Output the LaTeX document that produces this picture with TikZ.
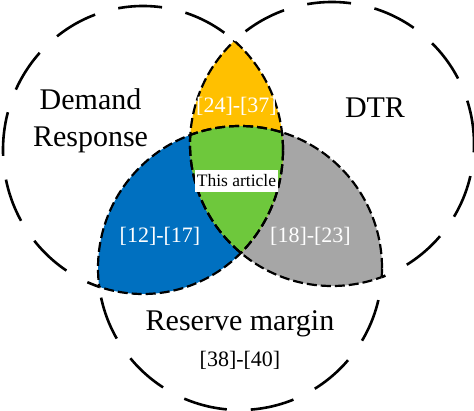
\documentclass[tikz,border=0pt]{standalone}
\usepackage{fontspec}
\setmainfont{Liberation Serif}
\definecolor{yelc}{RGB}{255,192,0}
\definecolor{bluec}{RGB}{0,112,192}
\definecolor{grayc}{RGB}{166,166,166}
\definecolor{greenc}{RGB}{110,200,60}
\newcommand{\shA}{(cA) ellipse [x radius=140pt, y radius=144pt]}
\newcommand{\shB}{(cB) circle [radius=142pt]}
\newcommand{\shC}{(cC) circle [radius=142pt]}
\newcommand{\bigrect}{(-20,-20) rectangle (500,440)}
\tikzset{
  outerline/.style={line width=2.6pt, dash pattern=on 44pt off 24pt},
  innerline/.style={line width=2.2pt, dash pattern=on 10pt off 4pt},
  bigtext/.style={font=\fontsize{30}{36}\selectfont, inner sep=0pt, anchor=base},
  reftext/.style={font=\fontsize{22}{26}\selectfont, inner sep=0pt, anchor=base},
}
\begin{document}
\begin{tikzpicture}[x=1pt,y=-1pt]
\useasboundingbox (0,0) rectangle (474,411);
\coordinate (cA) at (143,150);
\coordinate (cB) at (332,144);
\coordinate (cC) at (240,268);
% coloured regions
\begin{scope}\clip \shA; \fill[bluec] \shC; \end{scope}
\begin{scope}\clip \shB; \fill[grayc] \shC; \end{scope}
\begin{scope}\clip \shA; \fill[yelc] \shB; \end{scope}
\begin{scope}\clip \shA; \clip \shB; \fill[greenc] \shC; \end{scope}
% inner boundaries (short dashes)
\begin{scope}\clip \shB; \draw[innerline] \shA; \end{scope}
\begin{scope}\clip \shC; \draw[innerline] \shA; \end{scope}
\begin{scope}\clip \shA; \draw[innerline] \shB; \end{scope}
\begin{scope}\clip \shC; \draw[innerline] \shB; \end{scope}
\begin{scope}\clip \shA; \draw[innerline] \shC; \end{scope}
\begin{scope}\clip \shB; \draw[innerline] \shC; \end{scope}
% outer boundaries (long dashes)
\begin{scope}[even odd rule]
  \clip \bigrect \shB; \clip \bigrect \shC; \draw[outerline] \shA;
\end{scope}
\begin{scope}[even odd rule]
  \clip \bigrect \shA; \clip \bigrect \shC; \draw[outerline] \shB;
\end{scope}
\begin{scope}[even odd rule]
  \clip \bigrect \shA; \clip \bigrect \shB; \draw[outerline] \shC;
\end{scope}
% texts
\node[bigtext] (dr1) at (90.5,110) {Demand};
\node[bigtext] (dr2) at (90.5,147) {Response};
\node[bigtext] (dtr) at (375,118) {DTR};
\node[bigtext] (rm) at (240,331) {Reserve margin};
\node[reftext] (r3840) at (240,367) {[38]-[40]};
\node[reftext, text=white] (r2437) at (236.5,113) {[24]-[37]};
\node[reftext, text=white] (r1217) at (160,243) {[12]-[17]};
\node[reftext, text=white] (r1823) at (310.5,243) {[18]-[23]};
\node[fill=white, inner sep=0pt, minimum width=83pt, minimum height=22pt,
      font=\fontsize{17.5}{20}\selectfont] (art) at (236.5,181) {This article};
\end{tikzpicture}
\end{document}
